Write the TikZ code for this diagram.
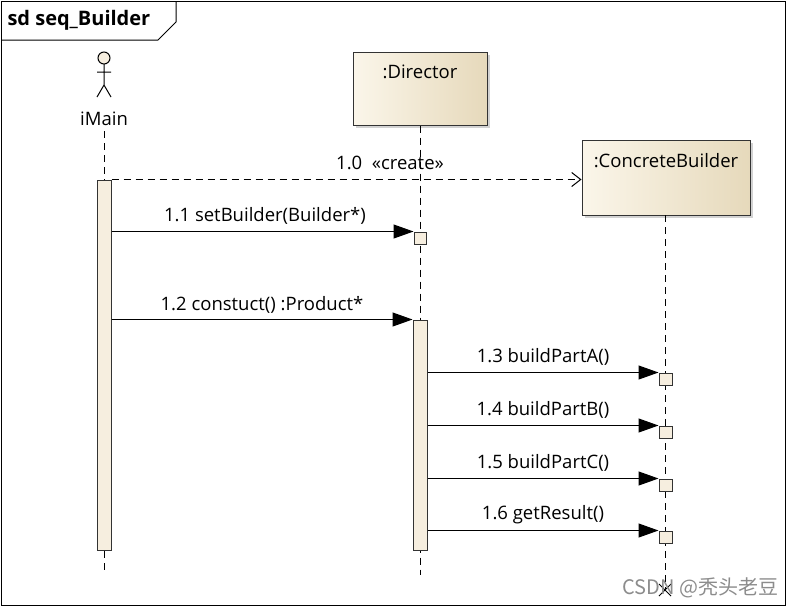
\documentclass[tikz,border=0pt]{standalone}
\usepackage{fontspec}
\setmainfont{Open Sans}
\newfontfamily\cjk{Noto Sans CJK SC}
\usetikzlibrary{arrows.meta,shadows,calc}
\definecolor{bgA}{HTML}{FBF6EA}
\definecolor{bgB}{HTML}{E6D9BB}
\definecolor{act}{HTML}{F6EEDF}
\tikzset{
  x=1pt,y=-1pt,
  txt/.style={font=\fontsize{18.5}{20}\selectfont},
  obj/.style={draw=black!80,line width=1pt,left color=bgA,right color=bgB,
    drop shadow={shadow xshift=3pt,shadow yshift=-3pt,fill=black!35}},
  life/.style={dash pattern=on 7pt off 5pt,line width=0.9pt},
  actv/.style={draw=black!80,fill=act,line width=1pt,inner sep=0},
  sync/.style={line width=1pt,-{Triangle[length=20pt,width=14pt]}},
  crt/.style={line width=1pt,dash pattern=on 7pt off 5pt,-{Straight Barb[length=9pt,width=14pt]}}
}
\begin{document}
\begin{tikzpicture}
\useasboundingbox (0,0) rectangle (786,606);
\draw[line width=1pt] (1,1) rectangle (785,605);
\draw[line width=1pt] (1,40) -- (158,40) -- (176,22) -- (176,1);
\node[anchor=west,font=\bfseries\fontsize{20}{22}\selectfont] (title) at (4,20) {sd seq\_Builder};
% actor
\draw[line width=1pt,fill=act] (104,58) circle (6);
\draw[line width=1pt] (104,64) -- (104,85) (97,72) -- (111,72) (97,97) -- (104,85) -- (111,97);
\node[txt] (imain) at (104,119) {iMain};
% objects
\node[obj,minimum width=134pt,minimum height=73pt] (dir) at (420,88.5) {};
\node[txt] (dirt) at (420,72) {:Director};
\node[obj,minimum width=168pt,minimum height=75pt] (cbo) at (666,177.5) {};
\node[txt] (cbt) at (666,161) {:ConcreteBuilder};
% lifelines
\coordinate (mEnd) at (104,572);
\coordinate (dEnd) at (420,575);
\coordinate (cEnd) at (665,590);
\draw[life] (104,131) -- (mEnd);
\draw[life] (dir.south) -- (dEnd);
\draw[life] (665,215) -- (cEnd);
\draw[line width=1pt] (659,584) -- (671,596) (659,596) -- (671,584);
% activations
\node[actv,minimum width=14pt,minimum height=370pt] (ma) at (104,365) {};
\node[actv,minimum width=12pt,minimum height=12pt] (d1) at (420,238) {};
\node[actv,minimum width=14pt,minimum height=230pt] (da) at (420,435) {};
\foreach \i/\y in {1/379,2/432,3/485,4/537}
  \node[actv,minimum width=13pt,minimum height=12pt] (k\i) at (665.5,\y) {};
% messages
\draw[crt] (ma.north east) -- (cbo.west |- ma.north);
\node[txt] (l0) at (390,163) {1.0\ \ «create»};
\draw[sync] (ma.east |- d1.north) -- (d1.north west);
\node[txt] (l1) at (265,216) {1.1 setBuilder(Builder*)};
\draw[sync] (ma.east |- da.north) -- (da.north west);
\node[txt] (l2) at (262,305) {1.2 constuct() :Product*};
\foreach \i/\t in {1/1.3 buildPartA(),2/1.4 buildPartB(),3/1.5 buildPartC(),4/1.6 getResult()}{
  \draw[sync] (da.east |- k\i.north) -- (k\i.north west);
  \node[txt] (m\i) at ($(da.east |- k\i.north)!0.5!(k\i.north west)+(0,-16)$) {\t};
}
\node[font=\fontsize{20}{22}\selectfont\cjk,text=black!45,anchor=east] (wm) at (782,588) {CSDN @秃头老豆};
\end{tikzpicture}
\end{document}
